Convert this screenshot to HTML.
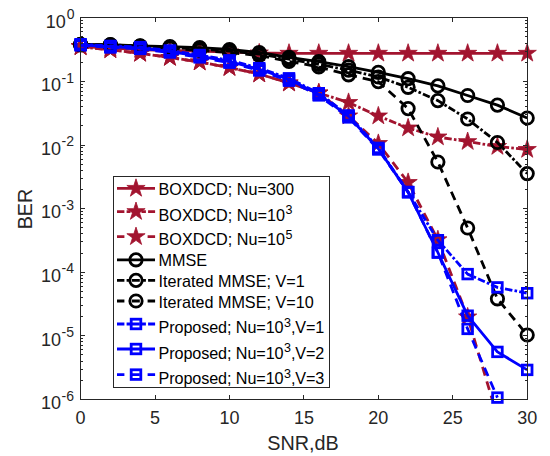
<!DOCTYPE html>
<html><head><meta charset="utf-8"><style>
html,body{margin:0;padding:0;background:#fff;width:550px;height:456px;overflow:hidden}
svg{display:block}
text{font-family:"Liberation Sans",sans-serif;fill:#262626}
</style></head><body>
<svg width="550" height="456" viewBox="0 0 550 456">
<defs><clipPath id="c"><rect x="80.6" y="17.8" width="446.6" height="381.6"/></clipPath></defs>

<polyline clip-path="url(#c)" points="80.60,46.50 110.37,48.00 140.15,49.50 169.92,50.50 199.69,51.20 229.47,52.00 259.24,53.00 289.01,53.30 318.79,53.30 348.56,53.30 378.33,53.30 408.11,53.30 437.88,53.30 467.65,53.30 497.43,53.30 527.20,53.30" fill="none" stroke="#A2142F" stroke-width="2.8" stroke-linejoin="round"/>
<path d="M80.60,36.90 L82.76,43.53 L89.73,43.53 L84.09,47.63 L86.24,54.27 L80.60,50.17 L74.96,54.27 L77.11,47.63 L71.47,43.53 L78.44,43.53 Z" fill="#A2142F" stroke="#A2142F" stroke-width="0.8" stroke-linejoin="miter"/>
<path d="M110.37,38.40 L112.53,45.03 L119.50,45.03 L113.86,49.13 L116.02,55.77 L110.37,51.67 L104.73,55.77 L106.89,49.13 L101.24,45.03 L108.22,45.03 Z" fill="#A2142F" stroke="#A2142F" stroke-width="0.8" stroke-linejoin="miter"/>
<path d="M140.15,39.90 L142.30,46.53 L149.28,46.53 L143.63,50.63 L145.79,57.27 L140.15,53.17 L134.50,57.27 L136.66,50.63 L131.02,46.53 L137.99,46.53 Z" fill="#A2142F" stroke="#A2142F" stroke-width="0.8" stroke-linejoin="miter"/>
<path d="M169.92,40.90 L172.08,47.53 L179.05,47.53 L173.41,51.63 L175.56,58.27 L169.92,54.17 L164.28,58.27 L166.43,51.63 L160.79,47.53 L167.76,47.53 Z" fill="#A2142F" stroke="#A2142F" stroke-width="0.8" stroke-linejoin="miter"/>
<path d="M199.69,41.60 L201.85,48.23 L208.82,48.23 L203.18,52.33 L205.34,58.97 L199.69,54.87 L194.05,58.97 L196.21,52.33 L190.56,48.23 L197.54,48.23 Z" fill="#A2142F" stroke="#A2142F" stroke-width="0.8" stroke-linejoin="miter"/>
<path d="M229.47,42.40 L231.62,49.03 L238.60,49.03 L232.95,53.13 L235.11,59.77 L229.47,55.67 L223.82,59.77 L225.98,53.13 L220.34,49.03 L227.31,49.03 Z" fill="#A2142F" stroke="#A2142F" stroke-width="0.8" stroke-linejoin="miter"/>
<path d="M259.24,43.40 L261.40,50.03 L268.37,50.03 L262.73,54.13 L264.88,60.77 L259.24,56.67 L253.60,60.77 L255.75,54.13 L250.11,50.03 L257.08,50.03 Z" fill="#A2142F" stroke="#A2142F" stroke-width="0.8" stroke-linejoin="miter"/>
<path d="M289.01,43.70 L291.17,50.33 L298.14,50.33 L292.50,54.43 L294.66,61.07 L289.01,56.97 L283.37,61.07 L285.53,54.43 L279.88,50.33 L286.86,50.33 Z" fill="#A2142F" stroke="#A2142F" stroke-width="0.8" stroke-linejoin="miter"/>
<path d="M318.79,43.70 L320.94,50.33 L327.92,50.33 L322.27,54.43 L324.43,61.07 L318.79,56.97 L313.14,61.07 L315.30,54.43 L309.66,50.33 L316.63,50.33 Z" fill="#A2142F" stroke="#A2142F" stroke-width="0.8" stroke-linejoin="miter"/>
<path d="M348.56,43.70 L350.72,50.33 L357.69,50.33 L352.05,54.43 L354.20,61.07 L348.56,56.97 L342.92,61.07 L345.07,54.43 L339.43,50.33 L346.40,50.33 Z" fill="#A2142F" stroke="#A2142F" stroke-width="0.8" stroke-linejoin="miter"/>
<path d="M378.33,43.70 L380.49,50.33 L387.46,50.33 L381.82,54.43 L383.98,61.07 L378.33,56.97 L372.69,61.07 L374.85,54.43 L369.20,50.33 L376.18,50.33 Z" fill="#A2142F" stroke="#A2142F" stroke-width="0.8" stroke-linejoin="miter"/>
<path d="M408.11,43.70 L410.26,50.33 L417.24,50.33 L411.59,54.43 L413.75,61.07 L408.11,56.97 L402.46,61.07 L404.62,54.43 L398.98,50.33 L405.95,50.33 Z" fill="#A2142F" stroke="#A2142F" stroke-width="0.8" stroke-linejoin="miter"/>
<path d="M437.88,43.70 L440.04,50.33 L447.01,50.33 L441.37,54.43 L443.52,61.07 L437.88,56.97 L432.24,61.07 L434.39,54.43 L428.75,50.33 L435.72,50.33 Z" fill="#A2142F" stroke="#A2142F" stroke-width="0.8" stroke-linejoin="miter"/>
<path d="M467.65,43.70 L469.81,50.33 L476.78,50.33 L471.14,54.43 L473.30,61.07 L467.65,56.97 L462.01,61.07 L464.17,54.43 L458.52,50.33 L465.50,50.33 Z" fill="#A2142F" stroke="#A2142F" stroke-width="0.8" stroke-linejoin="miter"/>
<path d="M497.43,43.70 L499.58,50.33 L506.56,50.33 L500.91,54.43 L503.07,61.07 L497.43,56.97 L491.78,61.07 L493.94,54.43 L488.30,50.33 L495.27,50.33 Z" fill="#A2142F" stroke="#A2142F" stroke-width="0.8" stroke-linejoin="miter"/>
<path d="M527.20,43.70 L529.36,50.33 L536.33,50.33 L530.69,54.43 L532.84,61.07 L527.20,56.97 L521.56,61.07 L523.71,54.43 L518.07,50.33 L525.04,50.33 Z" fill="#A2142F" stroke="#A2142F" stroke-width="0.8" stroke-linejoin="miter"/>
<polyline clip-path="url(#c)" points="80.60,46.80 110.37,49.80 140.15,53.40 169.92,57.50 199.69,62.00 229.47,67.60 259.24,74.00 289.01,83.00 318.79,93.00 348.56,102.50 378.33,116.00 408.11,128.00 437.88,137.00 467.65,141.60 497.43,146.50 527.20,149.50" fill="none" stroke="#A2142F" stroke-width="2.8" stroke-linejoin="round" stroke-dasharray="7.5 2.2 2.6 2.2"/>
<path d="M80.60,37.20 L82.76,43.83 L89.73,43.83 L84.09,47.93 L86.24,54.57 L80.60,50.47 L74.96,54.57 L77.11,47.93 L71.47,43.83 L78.44,43.83 Z" fill="#A2142F" stroke="#A2142F" stroke-width="0.8" stroke-linejoin="miter"/>
<path d="M110.37,40.20 L112.53,46.83 L119.50,46.83 L113.86,50.93 L116.02,57.57 L110.37,53.47 L104.73,57.57 L106.89,50.93 L101.24,46.83 L108.22,46.83 Z" fill="#A2142F" stroke="#A2142F" stroke-width="0.8" stroke-linejoin="miter"/>
<path d="M140.15,43.80 L142.30,50.43 L149.28,50.43 L143.63,54.53 L145.79,61.17 L140.15,57.07 L134.50,61.17 L136.66,54.53 L131.02,50.43 L137.99,50.43 Z" fill="#A2142F" stroke="#A2142F" stroke-width="0.8" stroke-linejoin="miter"/>
<path d="M169.92,47.90 L172.08,54.53 L179.05,54.53 L173.41,58.63 L175.56,65.27 L169.92,61.17 L164.28,65.27 L166.43,58.63 L160.79,54.53 L167.76,54.53 Z" fill="#A2142F" stroke="#A2142F" stroke-width="0.8" stroke-linejoin="miter"/>
<path d="M199.69,52.40 L201.85,59.03 L208.82,59.03 L203.18,63.13 L205.34,69.77 L199.69,65.67 L194.05,69.77 L196.21,63.13 L190.56,59.03 L197.54,59.03 Z" fill="#A2142F" stroke="#A2142F" stroke-width="0.8" stroke-linejoin="miter"/>
<path d="M229.47,58.00 L231.62,64.63 L238.60,64.63 L232.95,68.73 L235.11,75.37 L229.47,71.27 L223.82,75.37 L225.98,68.73 L220.34,64.63 L227.31,64.63 Z" fill="#A2142F" stroke="#A2142F" stroke-width="0.8" stroke-linejoin="miter"/>
<path d="M259.24,64.40 L261.40,71.03 L268.37,71.03 L262.73,75.13 L264.88,81.77 L259.24,77.67 L253.60,81.77 L255.75,75.13 L250.11,71.03 L257.08,71.03 Z" fill="#A2142F" stroke="#A2142F" stroke-width="0.8" stroke-linejoin="miter"/>
<path d="M289.01,73.40 L291.17,80.03 L298.14,80.03 L292.50,84.13 L294.66,90.77 L289.01,86.67 L283.37,90.77 L285.53,84.13 L279.88,80.03 L286.86,80.03 Z" fill="#A2142F" stroke="#A2142F" stroke-width="0.8" stroke-linejoin="miter"/>
<path d="M318.79,83.40 L320.94,90.03 L327.92,90.03 L322.27,94.13 L324.43,100.77 L318.79,96.67 L313.14,100.77 L315.30,94.13 L309.66,90.03 L316.63,90.03 Z" fill="#A2142F" stroke="#A2142F" stroke-width="0.8" stroke-linejoin="miter"/>
<path d="M348.56,92.90 L350.72,99.53 L357.69,99.53 L352.05,103.63 L354.20,110.27 L348.56,106.17 L342.92,110.27 L345.07,103.63 L339.43,99.53 L346.40,99.53 Z" fill="#A2142F" stroke="#A2142F" stroke-width="0.8" stroke-linejoin="miter"/>
<path d="M378.33,106.40 L380.49,113.03 L387.46,113.03 L381.82,117.13 L383.98,123.77 L378.33,119.67 L372.69,123.77 L374.85,117.13 L369.20,113.03 L376.18,113.03 Z" fill="#A2142F" stroke="#A2142F" stroke-width="0.8" stroke-linejoin="miter"/>
<path d="M408.11,118.40 L410.26,125.03 L417.24,125.03 L411.59,129.13 L413.75,135.77 L408.11,131.67 L402.46,135.77 L404.62,129.13 L398.98,125.03 L405.95,125.03 Z" fill="#A2142F" stroke="#A2142F" stroke-width="0.8" stroke-linejoin="miter"/>
<path d="M437.88,127.40 L440.04,134.03 L447.01,134.03 L441.37,138.13 L443.52,144.77 L437.88,140.67 L432.24,144.77 L434.39,138.13 L428.75,134.03 L435.72,134.03 Z" fill="#A2142F" stroke="#A2142F" stroke-width="0.8" stroke-linejoin="miter"/>
<path d="M467.65,132.00 L469.81,138.63 L476.78,138.63 L471.14,142.73 L473.30,149.37 L467.65,145.27 L462.01,149.37 L464.17,142.73 L458.52,138.63 L465.50,138.63 Z" fill="#A2142F" stroke="#A2142F" stroke-width="0.8" stroke-linejoin="miter"/>
<path d="M497.43,136.90 L499.58,143.53 L506.56,143.53 L500.91,147.63 L503.07,154.27 L497.43,150.17 L491.78,154.27 L493.94,147.63 L488.30,143.53 L495.27,143.53 Z" fill="#A2142F" stroke="#A2142F" stroke-width="0.8" stroke-linejoin="miter"/>
<path d="M527.20,139.90 L529.36,146.53 L536.33,146.53 L530.69,150.63 L532.84,157.27 L527.20,153.17 L521.56,157.27 L523.71,150.63 L518.07,146.53 L525.04,146.53 Z" fill="#A2142F" stroke="#A2142F" stroke-width="0.8" stroke-linejoin="miter"/>
<polyline clip-path="url(#c)" points="80.60,46.80 110.37,49.80 140.15,53.40 169.92,57.50 199.69,62.00 229.47,67.60 259.24,74.00 289.01,83.00 318.79,93.00 348.56,116.00 378.33,143.50 408.11,182.50 437.88,239.80 467.65,317.00 497.43,417.00" fill="none" stroke="#A2142F" stroke-width="2.8" stroke-linejoin="round" stroke-dasharray="9 6"/>
<path d="M80.60,37.20 L82.76,43.83 L89.73,43.83 L84.09,47.93 L86.24,54.57 L80.60,50.47 L74.96,54.57 L77.11,47.93 L71.47,43.83 L78.44,43.83 Z" fill="#A2142F" stroke="#A2142F" stroke-width="0.8" stroke-linejoin="miter"/>
<path d="M110.37,40.20 L112.53,46.83 L119.50,46.83 L113.86,50.93 L116.02,57.57 L110.37,53.47 L104.73,57.57 L106.89,50.93 L101.24,46.83 L108.22,46.83 Z" fill="#A2142F" stroke="#A2142F" stroke-width="0.8" stroke-linejoin="miter"/>
<path d="M140.15,43.80 L142.30,50.43 L149.28,50.43 L143.63,54.53 L145.79,61.17 L140.15,57.07 L134.50,61.17 L136.66,54.53 L131.02,50.43 L137.99,50.43 Z" fill="#A2142F" stroke="#A2142F" stroke-width="0.8" stroke-linejoin="miter"/>
<path d="M169.92,47.90 L172.08,54.53 L179.05,54.53 L173.41,58.63 L175.56,65.27 L169.92,61.17 L164.28,65.27 L166.43,58.63 L160.79,54.53 L167.76,54.53 Z" fill="#A2142F" stroke="#A2142F" stroke-width="0.8" stroke-linejoin="miter"/>
<path d="M199.69,52.40 L201.85,59.03 L208.82,59.03 L203.18,63.13 L205.34,69.77 L199.69,65.67 L194.05,69.77 L196.21,63.13 L190.56,59.03 L197.54,59.03 Z" fill="#A2142F" stroke="#A2142F" stroke-width="0.8" stroke-linejoin="miter"/>
<path d="M229.47,58.00 L231.62,64.63 L238.60,64.63 L232.95,68.73 L235.11,75.37 L229.47,71.27 L223.82,75.37 L225.98,68.73 L220.34,64.63 L227.31,64.63 Z" fill="#A2142F" stroke="#A2142F" stroke-width="0.8" stroke-linejoin="miter"/>
<path d="M259.24,64.40 L261.40,71.03 L268.37,71.03 L262.73,75.13 L264.88,81.77 L259.24,77.67 L253.60,81.77 L255.75,75.13 L250.11,71.03 L257.08,71.03 Z" fill="#A2142F" stroke="#A2142F" stroke-width="0.8" stroke-linejoin="miter"/>
<path d="M289.01,73.40 L291.17,80.03 L298.14,80.03 L292.50,84.13 L294.66,90.77 L289.01,86.67 L283.37,90.77 L285.53,84.13 L279.88,80.03 L286.86,80.03 Z" fill="#A2142F" stroke="#A2142F" stroke-width="0.8" stroke-linejoin="miter"/>
<path d="M318.79,83.40 L320.94,90.03 L327.92,90.03 L322.27,94.13 L324.43,100.77 L318.79,96.67 L313.14,100.77 L315.30,94.13 L309.66,90.03 L316.63,90.03 Z" fill="#A2142F" stroke="#A2142F" stroke-width="0.8" stroke-linejoin="miter"/>
<path d="M348.56,106.40 L350.72,113.03 L357.69,113.03 L352.05,117.13 L354.20,123.77 L348.56,119.67 L342.92,123.77 L345.07,117.13 L339.43,113.03 L346.40,113.03 Z" fill="#A2142F" stroke="#A2142F" stroke-width="0.8" stroke-linejoin="miter"/>
<path d="M378.33,133.90 L380.49,140.53 L387.46,140.53 L381.82,144.63 L383.98,151.27 L378.33,147.17 L372.69,151.27 L374.85,144.63 L369.20,140.53 L376.18,140.53 Z" fill="#A2142F" stroke="#A2142F" stroke-width="0.8" stroke-linejoin="miter"/>
<path d="M408.11,172.90 L410.26,179.53 L417.24,179.53 L411.59,183.63 L413.75,190.27 L408.11,186.17 L402.46,190.27 L404.62,183.63 L398.98,179.53 L405.95,179.53 Z" fill="#A2142F" stroke="#A2142F" stroke-width="0.8" stroke-linejoin="miter"/>
<path d="M437.88,230.20 L440.04,236.83 L447.01,236.83 L441.37,240.93 L443.52,247.57 L437.88,243.47 L432.24,247.57 L434.39,240.93 L428.75,236.83 L435.72,236.83 Z" fill="#A2142F" stroke="#A2142F" stroke-width="0.8" stroke-linejoin="miter"/>
<path d="M467.65,307.40 L469.81,314.03 L476.78,314.03 L471.14,318.13 L473.30,324.77 L467.65,320.67 L462.01,324.77 L464.17,318.13 L458.52,314.03 L465.50,314.03 Z" fill="#A2142F" stroke="#A2142F" stroke-width="0.8" stroke-linejoin="miter"/>
<polyline clip-path="url(#c)" points="80.60,44.40 110.37,44.70 140.15,45.90 169.92,46.60 199.69,47.60 229.47,49.50 259.24,52.50 289.01,57.40 318.79,61.70 348.56,66.70 378.33,72.30 408.11,78.70 437.88,85.90 467.65,95.50 497.43,105.10 527.20,118.00" fill="none" stroke="#000000" stroke-width="2.8" stroke-linejoin="round"/>
<circle cx="80.60" cy="44.40" r="6.2" fill="none" stroke="#000000" stroke-width="2.8"/>
<circle cx="110.37" cy="44.70" r="6.2" fill="none" stroke="#000000" stroke-width="2.8"/>
<circle cx="140.15" cy="45.90" r="6.2" fill="none" stroke="#000000" stroke-width="2.8"/>
<circle cx="169.92" cy="46.60" r="6.2" fill="none" stroke="#000000" stroke-width="2.8"/>
<circle cx="199.69" cy="47.60" r="6.2" fill="none" stroke="#000000" stroke-width="2.8"/>
<circle cx="229.47" cy="49.50" r="6.2" fill="none" stroke="#000000" stroke-width="2.8"/>
<circle cx="259.24" cy="52.50" r="6.2" fill="none" stroke="#000000" stroke-width="2.8"/>
<circle cx="289.01" cy="57.40" r="6.2" fill="none" stroke="#000000" stroke-width="2.8"/>
<circle cx="318.79" cy="61.70" r="6.2" fill="none" stroke="#000000" stroke-width="2.8"/>
<circle cx="348.56" cy="66.70" r="6.2" fill="none" stroke="#000000" stroke-width="2.8"/>
<circle cx="378.33" cy="72.30" r="6.2" fill="none" stroke="#000000" stroke-width="2.8"/>
<circle cx="408.11" cy="78.70" r="6.2" fill="none" stroke="#000000" stroke-width="2.8"/>
<circle cx="437.88" cy="85.90" r="6.2" fill="none" stroke="#000000" stroke-width="2.8"/>
<circle cx="467.65" cy="95.50" r="6.2" fill="none" stroke="#000000" stroke-width="2.8"/>
<circle cx="497.43" cy="105.10" r="6.2" fill="none" stroke="#000000" stroke-width="2.8"/>
<circle cx="527.20" cy="118.00" r="6.2" fill="none" stroke="#000000" stroke-width="2.8"/>
<polyline clip-path="url(#c)" points="80.60,44.60 110.37,44.90 140.15,46.10 169.92,47.40 199.69,49.00 229.47,51.00 259.24,54.00 289.01,59.20 318.79,64.30 348.56,70.10 378.33,77.00 408.11,87.30 437.88,100.60 467.65,119.00 497.43,142.50 527.20,173.60" fill="none" stroke="#000000" stroke-width="2.8" stroke-linejoin="round" stroke-dasharray="7.5 2.2 2.6 2.2"/>
<circle cx="80.60" cy="44.60" r="6.2" fill="none" stroke="#000000" stroke-width="2.8"/>
<circle cx="110.37" cy="44.90" r="6.2" fill="none" stroke="#000000" stroke-width="2.8"/>
<circle cx="140.15" cy="46.10" r="6.2" fill="none" stroke="#000000" stroke-width="2.8"/>
<circle cx="169.92" cy="47.40" r="6.2" fill="none" stroke="#000000" stroke-width="2.8"/>
<circle cx="199.69" cy="49.00" r="6.2" fill="none" stroke="#000000" stroke-width="2.8"/>
<circle cx="229.47" cy="51.00" r="6.2" fill="none" stroke="#000000" stroke-width="2.8"/>
<circle cx="259.24" cy="54.00" r="6.2" fill="none" stroke="#000000" stroke-width="2.8"/>
<circle cx="289.01" cy="59.20" r="6.2" fill="none" stroke="#000000" stroke-width="2.8"/>
<circle cx="318.79" cy="64.30" r="6.2" fill="none" stroke="#000000" stroke-width="2.8"/>
<circle cx="348.56" cy="70.10" r="6.2" fill="none" stroke="#000000" stroke-width="2.8"/>
<circle cx="378.33" cy="77.00" r="6.2" fill="none" stroke="#000000" stroke-width="2.8"/>
<circle cx="408.11" cy="87.30" r="6.2" fill="none" stroke="#000000" stroke-width="2.8"/>
<circle cx="437.88" cy="100.60" r="6.2" fill="none" stroke="#000000" stroke-width="2.8"/>
<circle cx="467.65" cy="119.00" r="6.2" fill="none" stroke="#000000" stroke-width="2.8"/>
<circle cx="497.43" cy="142.50" r="6.2" fill="none" stroke="#000000" stroke-width="2.8"/>
<circle cx="527.20" cy="173.60" r="6.2" fill="none" stroke="#000000" stroke-width="2.8"/>
<polyline clip-path="url(#c)" points="80.60,44.80 110.37,45.10 140.15,46.30 169.92,48.20 199.69,50.40 229.47,52.50 259.24,55.50 289.01,61.40 318.79,66.90 348.56,74.80 378.33,81.60 408.11,108.60 437.88,162.00 467.65,228.00 497.43,298.80 527.20,335.00" fill="none" stroke="#000000" stroke-width="2.8" stroke-linejoin="round" stroke-dasharray="9 6"/>
<circle cx="80.60" cy="44.80" r="6.2" fill="none" stroke="#000000" stroke-width="2.8"/>
<circle cx="110.37" cy="45.10" r="6.2" fill="none" stroke="#000000" stroke-width="2.8"/>
<circle cx="140.15" cy="46.30" r="6.2" fill="none" stroke="#000000" stroke-width="2.8"/>
<circle cx="169.92" cy="48.20" r="6.2" fill="none" stroke="#000000" stroke-width="2.8"/>
<circle cx="199.69" cy="50.40" r="6.2" fill="none" stroke="#000000" stroke-width="2.8"/>
<circle cx="229.47" cy="52.50" r="6.2" fill="none" stroke="#000000" stroke-width="2.8"/>
<circle cx="259.24" cy="55.50" r="6.2" fill="none" stroke="#000000" stroke-width="2.8"/>
<circle cx="289.01" cy="61.40" r="6.2" fill="none" stroke="#000000" stroke-width="2.8"/>
<circle cx="318.79" cy="66.90" r="6.2" fill="none" stroke="#000000" stroke-width="2.8"/>
<circle cx="348.56" cy="74.80" r="6.2" fill="none" stroke="#000000" stroke-width="2.8"/>
<circle cx="378.33" cy="81.60" r="6.2" fill="none" stroke="#000000" stroke-width="2.8"/>
<circle cx="408.11" cy="108.60" r="6.2" fill="none" stroke="#000000" stroke-width="2.8"/>
<circle cx="437.88" cy="162.00" r="6.2" fill="none" stroke="#000000" stroke-width="2.8"/>
<circle cx="467.65" cy="228.00" r="6.2" fill="none" stroke="#000000" stroke-width="2.8"/>
<circle cx="497.43" cy="298.80" r="6.2" fill="none" stroke="#000000" stroke-width="2.8"/>
<circle cx="527.20" cy="335.00" r="6.2" fill="none" stroke="#000000" stroke-width="2.8"/>
<polyline clip-path="url(#c)" points="80.60,44.20 110.37,45.90 140.15,47.10 169.92,50.50 199.69,55.00 229.47,60.30 259.24,68.10 289.01,78.30 318.79,93.20 348.56,115.40 378.33,147.90 408.11,192.10 437.88,240.20 467.65,274.10 497.43,287.40 527.20,293.20" fill="none" stroke="#0000FF" stroke-width="2.8" stroke-linejoin="round" stroke-dasharray="7.5 2.2 2.6 2.2"/>
<rect x="75.80" y="39.40" width="9.6" height="9.6" fill="none" stroke="#0000FF" stroke-width="2.8"/>
<rect x="105.57" y="41.10" width="9.6" height="9.6" fill="none" stroke="#0000FF" stroke-width="2.8"/>
<rect x="135.35" y="42.30" width="9.6" height="9.6" fill="none" stroke="#0000FF" stroke-width="2.8"/>
<rect x="165.12" y="45.70" width="9.6" height="9.6" fill="none" stroke="#0000FF" stroke-width="2.8"/>
<rect x="194.89" y="50.20" width="9.6" height="9.6" fill="none" stroke="#0000FF" stroke-width="2.8"/>
<rect x="224.67" y="55.50" width="9.6" height="9.6" fill="none" stroke="#0000FF" stroke-width="2.8"/>
<rect x="254.44" y="63.30" width="9.6" height="9.6" fill="none" stroke="#0000FF" stroke-width="2.8"/>
<rect x="284.21" y="73.50" width="9.6" height="9.6" fill="none" stroke="#0000FF" stroke-width="2.8"/>
<rect x="313.99" y="88.40" width="9.6" height="9.6" fill="none" stroke="#0000FF" stroke-width="2.8"/>
<rect x="343.76" y="110.60" width="9.6" height="9.6" fill="none" stroke="#0000FF" stroke-width="2.8"/>
<rect x="373.53" y="143.10" width="9.6" height="9.6" fill="none" stroke="#0000FF" stroke-width="2.8"/>
<rect x="403.31" y="187.30" width="9.6" height="9.6" fill="none" stroke="#0000FF" stroke-width="2.8"/>
<rect x="433.08" y="235.40" width="9.6" height="9.6" fill="none" stroke="#0000FF" stroke-width="2.8"/>
<rect x="462.85" y="269.30" width="9.6" height="9.6" fill="none" stroke="#0000FF" stroke-width="2.8"/>
<rect x="492.63" y="282.60" width="9.6" height="9.6" fill="none" stroke="#0000FF" stroke-width="2.8"/>
<rect x="522.40" y="288.40" width="9.6" height="9.6" fill="none" stroke="#0000FF" stroke-width="2.8"/>
<polyline clip-path="url(#c)" points="80.60,44.80 110.37,46.70 140.15,48.00 169.92,51.50 199.69,56.20 229.47,61.50 259.24,69.30 289.01,79.50 318.79,94.30 348.56,116.40 378.33,148.70 408.11,192.10 437.88,252.50 467.65,315.70 497.43,351.90 527.20,369.90" fill="none" stroke="#0000FF" stroke-width="2.8" stroke-linejoin="round"/>
<rect x="75.80" y="40.00" width="9.6" height="9.6" fill="none" stroke="#0000FF" stroke-width="2.8"/>
<rect x="105.57" y="41.90" width="9.6" height="9.6" fill="none" stroke="#0000FF" stroke-width="2.8"/>
<rect x="135.35" y="43.20" width="9.6" height="9.6" fill="none" stroke="#0000FF" stroke-width="2.8"/>
<rect x="165.12" y="46.70" width="9.6" height="9.6" fill="none" stroke="#0000FF" stroke-width="2.8"/>
<rect x="194.89" y="51.40" width="9.6" height="9.6" fill="none" stroke="#0000FF" stroke-width="2.8"/>
<rect x="224.67" y="56.70" width="9.6" height="9.6" fill="none" stroke="#0000FF" stroke-width="2.8"/>
<rect x="254.44" y="64.50" width="9.6" height="9.6" fill="none" stroke="#0000FF" stroke-width="2.8"/>
<rect x="284.21" y="74.70" width="9.6" height="9.6" fill="none" stroke="#0000FF" stroke-width="2.8"/>
<rect x="313.99" y="89.50" width="9.6" height="9.6" fill="none" stroke="#0000FF" stroke-width="2.8"/>
<rect x="343.76" y="111.60" width="9.6" height="9.6" fill="none" stroke="#0000FF" stroke-width="2.8"/>
<rect x="373.53" y="143.90" width="9.6" height="9.6" fill="none" stroke="#0000FF" stroke-width="2.8"/>
<rect x="403.31" y="187.30" width="9.6" height="9.6" fill="none" stroke="#0000FF" stroke-width="2.8"/>
<rect x="433.08" y="247.70" width="9.6" height="9.6" fill="none" stroke="#0000FF" stroke-width="2.8"/>
<rect x="462.85" y="310.90" width="9.6" height="9.6" fill="none" stroke="#0000FF" stroke-width="2.8"/>
<rect x="492.63" y="347.10" width="9.6" height="9.6" fill="none" stroke="#0000FF" stroke-width="2.8"/>
<rect x="522.40" y="365.10" width="9.6" height="9.6" fill="none" stroke="#0000FF" stroke-width="2.8"/>
<polyline clip-path="url(#c)" points="80.60,45.40 110.37,47.50 140.15,48.90 169.92,52.50 199.69,57.40 229.47,62.70 259.24,70.50 289.01,80.70 318.79,95.40 348.56,117.40 378.33,149.50 408.11,192.10 437.88,252.50 467.65,328.90 497.43,397.60" fill="none" stroke="#0000FF" stroke-width="2.8" stroke-linejoin="round" stroke-dasharray="9 6"/>
<rect x="75.80" y="40.60" width="9.6" height="9.6" fill="none" stroke="#0000FF" stroke-width="2.8"/>
<rect x="105.57" y="42.70" width="9.6" height="9.6" fill="none" stroke="#0000FF" stroke-width="2.8"/>
<rect x="135.35" y="44.10" width="9.6" height="9.6" fill="none" stroke="#0000FF" stroke-width="2.8"/>
<rect x="165.12" y="47.70" width="9.6" height="9.6" fill="none" stroke="#0000FF" stroke-width="2.8"/>
<rect x="194.89" y="52.60" width="9.6" height="9.6" fill="none" stroke="#0000FF" stroke-width="2.8"/>
<rect x="224.67" y="57.90" width="9.6" height="9.6" fill="none" stroke="#0000FF" stroke-width="2.8"/>
<rect x="254.44" y="65.70" width="9.6" height="9.6" fill="none" stroke="#0000FF" stroke-width="2.8"/>
<rect x="284.21" y="75.90" width="9.6" height="9.6" fill="none" stroke="#0000FF" stroke-width="2.8"/>
<rect x="313.99" y="90.60" width="9.6" height="9.6" fill="none" stroke="#0000FF" stroke-width="2.8"/>
<rect x="343.76" y="112.60" width="9.6" height="9.6" fill="none" stroke="#0000FF" stroke-width="2.8"/>
<rect x="373.53" y="144.70" width="9.6" height="9.6" fill="none" stroke="#0000FF" stroke-width="2.8"/>
<rect x="403.31" y="187.30" width="9.6" height="9.6" fill="none" stroke="#0000FF" stroke-width="2.8"/>
<rect x="433.08" y="247.70" width="9.6" height="9.6" fill="none" stroke="#0000FF" stroke-width="2.8"/>
<rect x="462.85" y="324.10" width="9.6" height="9.6" fill="none" stroke="#0000FF" stroke-width="2.8"/>
<rect x="492.63" y="392.80" width="9.6" height="9.6" fill="none" stroke="#0000FF" stroke-width="2.8"/>
<rect x="80.5" y="17.5" width="447.0" height="382.0" fill="none" stroke="#262626" stroke-width="1"/>
<path d="M80.5,399.5 v-4.5 M80.5,17.5 v4.5 M155.5,399.5 v-4.5 M155.5,17.5 v4.5 M229.5,399.5 v-4.5 M229.5,17.5 v4.5 M303.5,399.5 v-4.5 M303.5,17.5 v4.5 M378.5,399.5 v-4.5 M378.5,17.5 v4.5 M452.5,399.5 v-4.5 M452.5,17.5 v4.5 M527.5,399.5 v-4.5 M527.5,17.5 v4.5 M80.5,17.5 h4.5 M527.5,17.5 h-4.5 M80.5,62.5 h2.5 M527.5,62.5 h-2.5 M80.5,51.5 h2.5 M527.5,51.5 h-2.5 M80.5,43.5 h2.5 M527.5,43.5 h-2.5 M80.5,36.5 h2.5 M527.5,36.5 h-2.5 M80.5,31.5 h2.5 M527.5,31.5 h-2.5 M80.5,27.5 h2.5 M527.5,27.5 h-2.5 M80.5,23.5 h2.5 M527.5,23.5 h-2.5 M80.5,20.5 h2.5 M527.5,20.5 h-2.5 M80.5,81.5 h4.5 M527.5,81.5 h-4.5 M80.5,125.5 h2.5 M527.5,125.5 h-2.5 M80.5,114.5 h2.5 M527.5,114.5 h-2.5 M80.5,106.5 h2.5 M527.5,106.5 h-2.5 M80.5,100.5 h2.5 M527.5,100.5 h-2.5 M80.5,95.5 h2.5 M527.5,95.5 h-2.5 M80.5,91.5 h2.5 M527.5,91.5 h-2.5 M80.5,87.5 h2.5 M527.5,87.5 h-2.5 M80.5,84.5 h2.5 M527.5,84.5 h-2.5 M80.5,145.5 h4.5 M527.5,145.5 h-4.5 M80.5,189.5 h2.5 M527.5,189.5 h-2.5 M80.5,178.5 h2.5 M527.5,178.5 h-2.5 M80.5,170.5 h2.5 M527.5,170.5 h-2.5 M80.5,164.5 h2.5 M527.5,164.5 h-2.5 M80.5,159.5 h2.5 M527.5,159.5 h-2.5 M80.5,154.5 h2.5 M527.5,154.5 h-2.5 M80.5,151.5 h2.5 M527.5,151.5 h-2.5 M80.5,147.5 h2.5 M527.5,147.5 h-2.5 M80.5,208.5 h4.5 M527.5,208.5 h-4.5 M80.5,253.5 h2.5 M527.5,253.5 h-2.5 M80.5,241.5 h2.5 M527.5,241.5 h-2.5 M80.5,233.5 h2.5 M527.5,233.5 h-2.5 M80.5,227.5 h2.5 M527.5,227.5 h-2.5 M80.5,222.5 h2.5 M527.5,222.5 h-2.5 M80.5,218.5 h2.5 M527.5,218.5 h-2.5 M80.5,214.5 h2.5 M527.5,214.5 h-2.5 M80.5,211.5 h2.5 M527.5,211.5 h-2.5 M80.5,272.5 h4.5 M527.5,272.5 h-4.5 M80.5,316.5 h2.5 M527.5,316.5 h-2.5 M80.5,305.5 h2.5 M527.5,305.5 h-2.5 M80.5,297.5 h2.5 M527.5,297.5 h-2.5 M80.5,291.5 h2.5 M527.5,291.5 h-2.5 M80.5,286.5 h2.5 M527.5,286.5 h-2.5 M80.5,282.5 h2.5 M527.5,282.5 h-2.5 M80.5,278.5 h2.5 M527.5,278.5 h-2.5 M80.5,275.5 h2.5 M527.5,275.5 h-2.5 M80.5,335.5 h4.5 M527.5,335.5 h-4.5 M80.5,380.5 h2.5 M527.5,380.5 h-2.5 M80.5,369.5 h2.5 M527.5,369.5 h-2.5 M80.5,361.5 h2.5 M527.5,361.5 h-2.5 M80.5,354.5 h2.5 M527.5,354.5 h-2.5 M80.5,349.5 h2.5 M527.5,349.5 h-2.5 M80.5,345.5 h2.5 M527.5,345.5 h-2.5 M80.5,341.5 h2.5 M527.5,341.5 h-2.5 M80.5,338.5 h2.5 M527.5,338.5 h-2.5 M80.5,399.5 h4.5 M527.5,399.5 h-4.5" stroke="#262626" stroke-width="1" fill="none"/>
<text x="80.60" y="424" font-size="18" text-anchor="middle">0</text>
<text x="155.03" y="424" font-size="18" text-anchor="middle">5</text>
<text x="229.47" y="424" font-size="18" text-anchor="middle">10</text>
<text x="303.90" y="424" font-size="18" text-anchor="middle">15</text>
<text x="378.33" y="424" font-size="18" text-anchor="middle">20</text>
<text x="452.77" y="424" font-size="18" text-anchor="middle">25</text>
<text x="527.20" y="424" font-size="18" text-anchor="middle">30</text>
<text x="65.8" y="27.60" font-size="18" text-anchor="end">10</text>
<text x="66.85" y="19.00" font-size="14">0</text>
<text x="61.1" y="91.20" font-size="18" text-anchor="end">10</text>
<text x="61.6" y="82.60" font-size="14">-1</text>
<text x="61.1" y="154.80" font-size="18" text-anchor="end">10</text>
<text x="61.6" y="146.20" font-size="14">-2</text>
<text x="61.1" y="218.40" font-size="18" text-anchor="end">10</text>
<text x="61.6" y="209.80" font-size="14">-3</text>
<text x="61.1" y="282.00" font-size="18" text-anchor="end">10</text>
<text x="61.6" y="273.40" font-size="14">-4</text>
<text x="61.1" y="345.60" font-size="18" text-anchor="end">10</text>
<text x="61.6" y="337.00" font-size="14">-5</text>
<text x="61.1" y="409.20" font-size="18" text-anchor="end">10</text>
<text x="61.6" y="400.60" font-size="14">-6</text>
<text x="303" y="450" font-size="19.8" text-anchor="middle">SNR,dB</text>
<text transform="translate(31.8,209) rotate(-90)" font-size="19.8" text-anchor="middle">BER</text>
<rect x="113.5" y="176.5" width="216.0" height="211.0" fill="#fff" stroke="#262626" stroke-width="1"/>
<path d="M117,188.4 H155" stroke="#A2142F" stroke-width="2.8" fill="none"/>
<path d="M136.00,178.80 L138.16,185.43 L145.13,185.43 L139.49,189.53 L141.64,196.17 L136.00,192.07 L130.36,196.17 L132.51,189.53 L126.87,185.43 L133.84,185.43 Z" fill="#A2142F" stroke="#A2142F" stroke-width="0.8" stroke-linejoin="miter"/>
<text x="158.5" y="194.6" font-size="16.2" style="fill:#000">BOXDCD; Nu=300</text>
<path d="M117,211.6 H124.4 M126.6,211.6 H130.5 M131.9,211.6 H139.8 M141.5,211.6 H145.9 M148.1,211.6 H155.1" stroke="#A2142F" stroke-width="2.8" fill="none"/>
<path d="M136.00,202.00 L138.16,208.63 L145.13,208.63 L139.49,212.73 L141.64,219.37 L136.00,215.27 L130.36,219.37 L132.51,212.73 L126.87,208.63 L133.84,208.63 Z" fill="#A2142F" stroke="#A2142F" stroke-width="0.8" stroke-linejoin="miter"/>
<text x="158.5" y="220.6" font-size="16.2" style="fill:#000">BOXDCD; Nu=10<tspan font-size="12.5" dx="0.6" dy="-6.4">3</tspan></text>
<path d="M117,236.7 H124.4 M131.9,236.7 H139.8 M147.6,236.7 H155.1" stroke="#A2142F" stroke-width="2.8" fill="none"/>
<path d="M136.00,227.10 L138.16,233.73 L145.13,233.73 L139.49,237.83 L141.64,244.47 L136.00,240.37 L130.36,244.47 L132.51,237.83 L126.87,233.73 L133.84,233.73 Z" fill="#A2142F" stroke="#A2142F" stroke-width="0.8" stroke-linejoin="miter"/>
<text x="158.5" y="245.2" font-size="16.2" style="fill:#000">BOXDCD; Nu=10<tspan font-size="12.5" dx="0.6" dy="-6.4">5</tspan></text>
<path d="M117,259.8 H155" stroke="#000000" stroke-width="2.8" fill="none"/>
<circle cx="136.00" cy="259.80" r="6.2" fill="none" stroke="#000000" stroke-width="2.8"/>
<text x="158.5" y="265.7" font-size="16.2" style="fill:#000">MMSE</text>
<path d="M117,280.4 H124.4 M126.6,280.4 H130.5 M131.9,280.4 H139.8 M141.5,280.4 H145.9 M148.1,280.4 H155.1" stroke="#000000" stroke-width="2.8" fill="none"/>
<circle cx="136.00" cy="280.40" r="6.2" fill="none" stroke="#000000" stroke-width="2.8"/>
<text x="158.5" y="286.7" font-size="16.2" style="fill:#000">Iterated MMSE; V=1</text>
<path d="M117,301 H124.4 M131.9,301 H139.8 M147.6,301 H155.1" stroke="#000000" stroke-width="2.8" fill="none"/>
<circle cx="136.00" cy="301.00" r="6.2" fill="none" stroke="#000000" stroke-width="2.8"/>
<text x="158.5" y="307.6" font-size="16.2" style="fill:#000">Iterated MMSE; V=10</text>
<path d="M117,324 H124.4 M126.6,324 H130.5 M131.9,324 H139.8 M141.5,324 H145.9 M148.1,324 H155.1" stroke="#0000FF" stroke-width="2.8" fill="none"/>
<rect x="131.20" y="319.20" width="9.6" height="9.6" fill="none" stroke="#0000FF" stroke-width="2.8"/>
<text x="158.5" y="333.0" font-size="16.2" style="fill:#000;letter-spacing:-0.1px">Proposed; Nu=10<tspan font-size="12.5" dx="0.6" dy="-6.4">3</tspan><tspan dy="6.4">,V=1</tspan></text>
<path d="M117,349 H155" stroke="#0000FF" stroke-width="2.8" fill="none"/>
<rect x="131.20" y="344.20" width="9.6" height="9.6" fill="none" stroke="#0000FF" stroke-width="2.8"/>
<text x="158.5" y="358.8" font-size="16.2" style="fill:#000;letter-spacing:-0.1px">Proposed; Nu=10<tspan font-size="12.5" dx="0.6" dy="-6.4">3</tspan><tspan dy="6.4">,V=2</tspan></text>
<path d="M117,374.6 H124.4 M131.9,374.6 H139.8 M147.6,374.6 H155.1" stroke="#0000FF" stroke-width="2.8" fill="none"/>
<rect x="131.20" y="369.80" width="9.6" height="9.6" fill="none" stroke="#0000FF" stroke-width="2.8"/>
<text x="158.5" y="384.3" font-size="16.2" style="fill:#000;letter-spacing:-0.1px">Proposed; Nu=10<tspan font-size="12.5" dx="0.6" dy="-6.4">3</tspan><tspan dy="6.4">,V=3</tspan></text>
</svg></body></html>
